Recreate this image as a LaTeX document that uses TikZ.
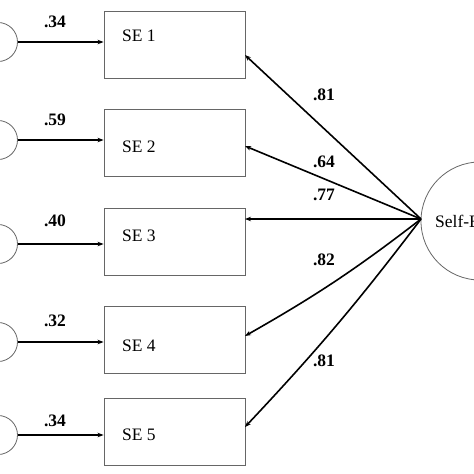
\documentclass[tikz,border=0pt]{standalone}
\usepackage{fontspec}
\setmainfont{Liberation Serif}
\usetikzlibrary{arrows.meta}
\begin{document}
\begin{tikzpicture}[x=1pt,y=-1pt,
  boxnode/.style={draw=black!60,line width=0.9pt,rectangle,minimum width=141pt,minimum height=67pt,inner sep=0pt},
  errnode/.style={draw=black!60,line width=0.8pt,circle,minimum size=39pt,inner sep=0pt},
  latent/.style={draw=black!60,line width=0.8pt,circle,minimum size=118pt,inner sep=0pt},
  itemtext/.style={anchor=west,font=\fontsize{17.5}{20}\selectfont,inner sep=0pt},
  coef/.style={font=\fontsize{17.5}{20}\selectfont\bfseries,inner sep=0pt},
  path arrow/.style={line width=1.6pt,-{Stealth[length=6pt,width=4.5pt]}}]
\useasboundingbox (0,0) rectangle (474,474);
\clip (0,0) rectangle (474,474);
\fill[white] (0,0) rectangle (474,474);
% boxes
\node[boxnode] (b1) at (174.5,44.5) {};
\node[boxnode] (b2) at (174.5,142.5) {};
\node[boxnode] (b3) at (174.5,241.5) {};
\node[boxnode] (b4) at (174.5,339.5) {};
\node[boxnode] (b5) at (174.5,432) {};
\node[itemtext] (t1) at (122,36) {SE 1};
\node[itemtext] (t2) at (122,147) {SE 2};
\node[itemtext] (t3) at (122,236) {SE 3};
\node[itemtext] (t4) at (122,346) {SE 4};
\node[itemtext] (t5) at (122,435) {SE 5};
% error circles
\node[errnode] (e1) at (-2,42) {};
\node[errnode] (e2) at (-2,140) {};
\node[errnode] (e3) at (-2,244) {};
\node[errnode] (e4) at (-2,342) {};
\node[errnode] (e5) at (-2,435) {};
\draw[path arrow] (e1.east) -- (b1.west |- e1.east);
\draw[path arrow] (e2.east) -- (b2.west |- e2.east);
\draw[path arrow] (e3.east) -- (b3.west |- e3.east);
\draw[path arrow] (e4.east) -- (b4.west |- e4.east);
\draw[path arrow] (e5.east) -- (b5.west |- e5.east);
\node[coef] (c1) at (55,22) {.34};
\node[coef] (c2) at (55,120) {.59};
\node[coef] (c3) at (55,221) {.40};
\node[coef] (c4) at (55,321) {.32};
\node[coef] (c5) at (55,421) {.34};
% latent
\node[latent] (se) at (480,221) {};
\node[itemtext] (selft) at (435,223) {Self-Efficacy};
\coordinate (hub) at (421,219);
\coordinate (p1) at (245,55);
\coordinate (p2) at (245,146);
\coordinate (p3) at (245,219);
\coordinate (p4) at (245,336);
\coordinate (p5) at (245,427);
\draw[path arrow] (hub) -- (p1);
\draw[path arrow] (hub) -- (p2);
\draw[path arrow] (hub) -- (p3);
\draw[path arrow] (hub) to[bend left=4] (p4);
\draw[path arrow] (hub) to[bend left=3] (p5);
\node[coef] (l1) at (324,95) {.81};
\node[coef] (l2) at (324,162) {.64};
\node[coef] (l3) at (324,195) {.77};
\node[coef] (l4) at (324,260) {.82};
\node[coef] (l5) at (324,361) {.81};
\end{tikzpicture}
\end{document}
